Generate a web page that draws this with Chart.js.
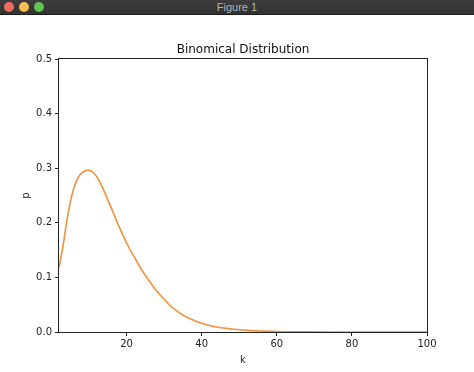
<!DOCTYPE html>
<html>
<head>
<meta charset="utf-8">
<script src="https://cdn.jsdelivr.net/npm/chart.js@4"></script>
<style>
  html, body { margin: 0; padding: 0; background: #fff; }
  body { width: 474px; height: 372px; overflow: hidden; font-family: "DejaVu Sans", sans-serif; }
  .titlebar {
    position: relative; height: 15px;
    background: linear-gradient(#3d3d3d, #323232);
    border-bottom: 1px solid #1e1e1e; box-sizing: border-box;
  }
  .dot { position: absolute; top: 2px; width: 10px; height: 10px; border-radius: 50%; }
  .titlebar .name {
    position: absolute; left: 0; right: 0; top: 0; line-height: 14px;
    text-align: center; color: #b4b4b4; font-size: 11px;
    font-family: "Liberation Sans", "DejaVu Sans", sans-serif;
  }
  .wrap { position: relative; width: 474px; height: 357px; }
</style>
</head>
<body>
<div class="titlebar">
  <span class="dot" style="left:4px;background:#ed6a5e"></span>
  <span class="dot" style="left:19px;background:#f4bf4f"></span>
  <span class="dot" style="left:34px;background:#61c554"></span>
  <div class="name">Figure 1</div>
</div>
<div class="wrap"><canvas id="chart"></canvas></div>
<script>
// values
const kVals = [2, 3, 4, 5, 6, 7, 8, 9, 10, 11, 12, 13, 14, 15, 16, 18, 20, 22, 24, 26, 28, 30, 32, 35, 38, 40, 44, 48, 52, 56, 60, 65, 70, 80, 90, 100];
const pVals = [0.118, 0.155, 0.199, 0.238, 0.264, 0.282, 0.291, 0.2955, 0.296, 0.293, 0.285, 0.273, 0.258, 0.242, 0.226, 0.193, 0.163, 0.138, 0.114, 0.094, 0.075, 0.060, 0.046, 0.031, 0.021, 0.016, 0.009, 0.0055, 0.003, 0.0018, 0.0009, 0.0004, 0.0002, 0.00005, 0.00001, 0];
const xTicks = [20, 40, 60, 80, 100];
const yTicks = [0, 0.1, 0.2, 0.3, 0.4, 0.5];

// box round the axes, like matplotlib's four spines
const frame = {
  id: 'frame',
  afterDraw(chart) {
    const { ctx, chartArea: a } = chart;
    ctx.save();
    ctx.strokeStyle = '#222';
    ctx.lineWidth = 1;
    ctx.strokeRect(Math.round(a.left) - 0.5, Math.round(a.top) - 0.5, Math.round(a.right - a.left) + 1, Math.round(a.bottom - a.top) + 1);
    ctx.restore();
  }
};

Chart.defaults.font.family = '"DejaVu Sans", sans-serif';
Chart.defaults.color = '#222';

new Chart(document.getElementById('chart'), {
  type: 'line',
  data: {
    datasets: [{
      data: kVals.map((k, i) => ({ x: k, y: pVals[i] })),
      borderColor: '#f2913a',
      borderWidth: 1.6,
      pointRadius: 0,
      tension: 0.4,
      fill: false
    }]
  },
  options: {
    responsive: true,
    maintainAspectRatio: false,
    animation: false,
    layout: { padding: { left: 0, right: 47, top: 0, bottom: 0 } },
    plugins: {
      legend: { display: false },
      tooltip: { enabled: false },
      title: {
        display: true,
        fullSize: false, // centre over the axes, not the canvas
        text: 'Binomical Distribution',
        color: '#111',
        font: { size: 12, weight: 'normal' },
        padding: { top: 27.5, bottom: 2.1 }
      }
    },
    scales: {
      x: {
        type: 'linear',
        min: 2,
        max: 100,
        afterBuildTicks: (s) => { s.ticks = xTicks.map(v => ({ value: v })); },
        afterFit: (s) => { s.height = 40; },
        grid: { drawOnChartArea: false, drawTicks: true, tickLength: 4, color: '#222' },
        border: { display: false },
        ticks: { font: { size: 10 }, padding: 2, maxRotation: 0 },
        title: { display: true, text: 'k', font: { size: 10 }, padding: { top: 0, bottom: 6 } }
      },
      y: {
        min: 0,
        max: 0.5,
        afterBuildTicks: (s) => { s.ticks = yTicks.map(v => ({ value: v })); },
        afterFit: (s) => { s.width = 59; },
        grid: { drawOnChartArea: false, drawTicks: true, tickLength: 4, color: '#222' },
        border: { display: false },
        ticks: { font: { size: 10 }, padding: 3, callback: (v) => v.toFixed(1) },
        title: { display: true, text: 'p', font: { size: 10 }, padding: { top: 20, bottom: 0 } }
      }
    }
  },
  plugins: [frame]
});
</script>
</body>
</html>
